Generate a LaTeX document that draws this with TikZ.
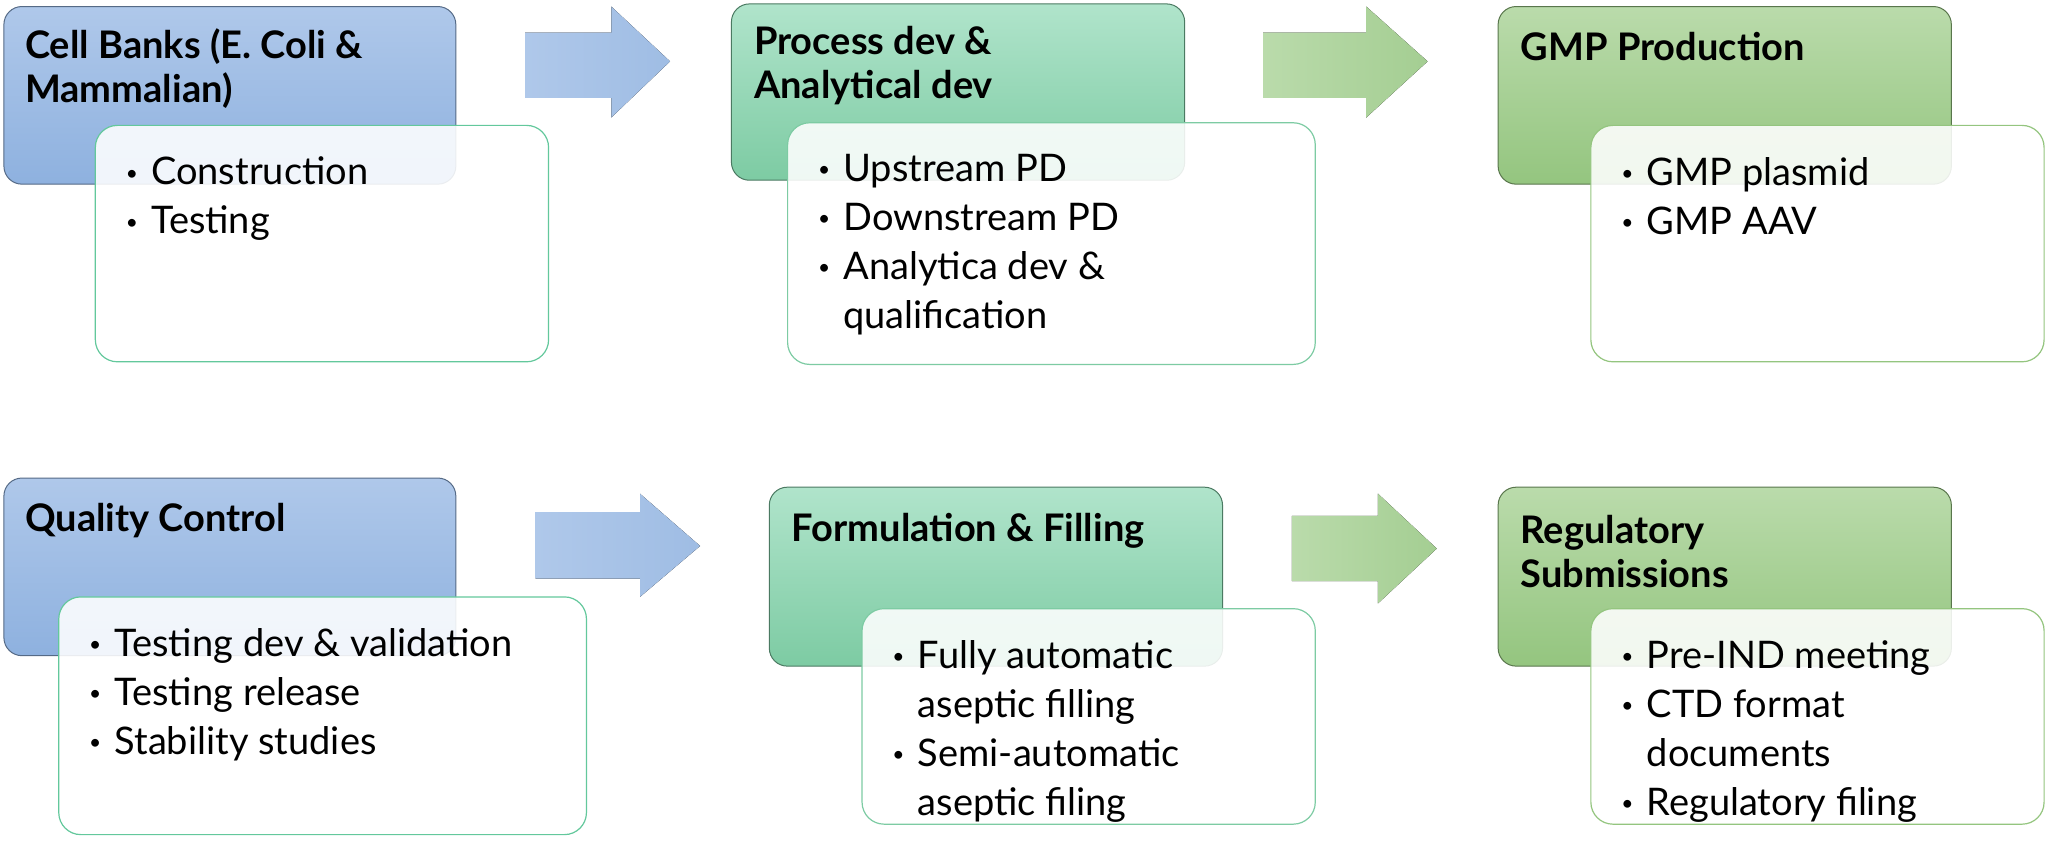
\documentclass[tikz,border=0pt]{standalone}
\usepackage{fontspec}
\setmainfont{Lato}
\begin{document}
\begin{tikzpicture}[x=0.653pt,y=-0.653pt,
  hdr/.style={rounded corners=9pt,draw=#1!60!black,line width=0.5pt},
  det/.style={rounded corners=11pt,draw=#1,line width=0.6pt,fill=white,fill opacity=0.88},
  ttl/.style={anchor=north west,font=\bfseries\fontsize{19}{22}\selectfont,align=left,inner sep=0pt},
  lst/.style={anchor=north west,font=\fontsize{19}{24.5}\selectfont,align=left,inner sep=0pt}]
\useasboundingbox (0,0) rectangle (1568,645);
\definecolor{bT}{HTML}{AFC8EA}\definecolor{bB}{HTML}{8EB1DF}
\definecolor{gT}{HTML}{B0E4CB}\definecolor{gB}{HTML}{7DCBA3}
\definecolor{lT}{HTML}{BADBAB}\definecolor{lB}{HTML}{94C57F}
\newcommand{\bl}{\raisebox{0.25ex}{\scalebox{0.55}{\textbullet}}\hspace{0.35em}}
\newcommand{\ind}{\phantom{\bl}}
% arrows
\fill[left color=bT,right color=bB!85!white] (402,25) -- (468,25) -- (468,5) -- (513,47) -- (468,90) -- (468,75) -- (402,75) -- cycle;
\fill[left color=lT,right color=lB!85!white] (967,25) -- (1046,25) -- (1046,5) -- (1093,47) -- (1046,90) -- (1046,75) -- (967,75) -- cycle;
\fill[left color=bT,right color=bB!85!white] (410,392) -- (490,392) -- (490,378) -- (536,418) -- (490,457) -- (490,443) -- (410,443) -- cycle;
\fill[left color=lT,right color=lB!85!white] (989,395) -- (1055,395) -- (1055,378) -- (1100,420) -- (1055,462) -- (1055,445) -- (989,445) -- cycle;
% row 1
\path[hdr=bB,top color=bT,bottom color=bB] (3,5) rectangle (349,141);
\node[ttl] (t1) at (19,22) {Cell Banks (E. Coli \&\\Mammalian)};
\path[det=bB!70!green] (73,96) rectangle (420,277);
\node[lst] (l1) at (96,120) {\bl Construction\\\bl Testing};
\path[hdr=gB,top color=gT,bottom color=gB] (560,3) rectangle (907,138);
\node[ttl] (t2) at (577,20) {Process dev \&\\Analytical dev};
\path[det=gB] (603,94) rectangle (1007,279);
\node[lst] (l2) at (626,118) {\bl Upstream PD\\\bl Downstream PD\\\bl Analytica dev \&\\\ind qualification};
\path[hdr=lB,top color=lT,bottom color=lB] (1147,5) rectangle (1494,141);
\node[ttl] (t3) at (1164,24) {GMP Production};
\path[det=lB] (1218,96) rectangle (1565,277);
\node[lst] (l3) at (1241,120) {\bl GMP plasmid\\\bl GMP AAV};
% row 2
\path[hdr=bB,top color=bT,bottom color=bB] (3,366) rectangle (349,502);
\node[ttl] (t4) at (19,385) {Quality Control};
\path[det=bB!70!green] (45,457) rectangle (449,639);
\node[lst] (l4) at (68,481) {\bl Testing dev \& validation\\\bl Testing release\\\bl Stability studies};
\path[hdr=gB,top color=gT,bottom color=gB] (589,373) rectangle (936,510);
\node[ttl] (t5) at (606,393) {Formulation \& Filling};
\path[det=gB] (660,466) rectangle (1007,631);
\node[lst] (l5) at (683,490) {\bl Fully automatic\\\ind aseptic filling\\\bl Semi-automatic\\\ind aseptic filing};
\path[hdr=lB,top color=lT,bottom color=lB] (1147,373) rectangle (1494,510);
\node[ttl] (t6) at (1164,394) {Regulatory\\Submissions};
\path[det=lB] (1218,466) rectangle (1565,631);
\node[lst] (l6) at (1241,490) {\bl Pre-IND meeting\\\bl CTD format\\\ind documents\\\bl Regulatory filing};
\end{tikzpicture}
\end{document}
